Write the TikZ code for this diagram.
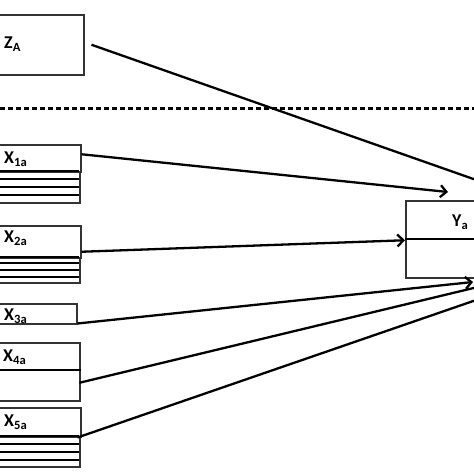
\documentclass[tikz,border=0pt]{standalone}
\usepackage{fontspec}
\setmainfont{Carlito}
\usetikzlibrary{arrows.meta}

\begin{document}
\begin{tikzpicture}[x=1pt, y=-1pt,
        box/.style={draw=black!80, line width=1.5pt, fill=white, inner sep=0pt, anchor=north west},
        lbl/.style={anchor=west, inner sep=0pt, font=\fontsize{18}{21}\selectfont\bfseries},
        stripe/.style={black, line width=2pt},
        link/.style={black, line width=2.3pt},
        arr/.style={link, -{Straight Barb[length=6pt, width=12pt, line width=2.3pt]}}]
        \useasboundingbox (0, 0) rectangle (474, 474);
        \clip (0, 0) rectangle (474, 474);
        % boxes
        \node[box, minimum width=88, minimum height=60] (za) at (-5, 14) {};
        \node[box, minimum width=85, minimum height=27] (x1) at (-5, 144) {};
        \draw[box] (x1.south west) rectangle (80, 203);
        \foreach \y in {171, 179, 187, 195} \draw[stripe] (-5, \y) -- (79, \y);
        \node[box, minimum width=85, minimum height=32] (x2) at (-5, 225) {};
        \draw[box] (x2.south west) rectangle (80, 283);
        \foreach \y in {257, 263, 270, 277} \draw[stripe] (-5, \y) -- (79, \y);
        \node[box, minimum width=81, minimum height=20] (x3) at (-5, 303) {};
        \node[box, minimum width=84, minimum height=58] (x4) at (-5, 342) {};
        \draw[stripe] (-5, 370) -- (x4.east |- 0, 370);
        \node[box, minimum width=85, minimum height=29] (x5) at (-5, 407) {};
        \draw[box] (x5.south west) rectangle (80, 467);
        \foreach \y in {436, 444, 452, 460} \draw[stripe] (-5, \y) -- (79, \y);
        \node[box, minimum width=90, minimum height=77] (ya) at (405, 200) {};
        \draw[stripe] (ya.west) -- (ya.east);
        % labels
        \node[lbl] (lza) at (4, 44) {Z\textsubscript{A}};
        \node[lbl] (lx1) at (4, 159) {X\textsubscript{1a}};
        \node[lbl] (lx2) at (4, 238) {X\textsubscript{2a}};
        \node[lbl] (lx3) at (4, 316) {X\textsubscript{3a}};
        \node[lbl] (lx4) at (3, 357) {X\textsubscript{4a}};
        \node[lbl] (lx5) at (4, 422) {X\textsubscript{5a}};
        \node[lbl] (lya) at (452, 222) {Y\textsubscript{a}};
        % separator
        \draw[black, line width=3pt, dash pattern=on 5pt off 3pt] (0, 108) -- (474, 108);
        % connectors
        \coordinate (tz) at (482, 182);
        \coordinate (t1) at (448, 192);
        \coordinate (t3) at (473, 282);
        \coordinate (t4) at (482, 286);
        \coordinate (t5) at (482, 298);
        \draw[link] ([xshift=7]za.east) -- (tz);
        \draw[arr] ([yshift=4]x1.east) -- (t1);
        \draw[arr] ([yshift=-10]x2.east) -- ([yshift=-1]ya.west);
        \draw[arr] ([yshift=1]x3.south east) -- (t3);
        \draw[link] ([xshift=-1, yshift=-11]x4.east) -- (t4);
        \draw[link] ([xshift=-4]x5.south east) -- (t5);
\end{tikzpicture}
\end{document}
